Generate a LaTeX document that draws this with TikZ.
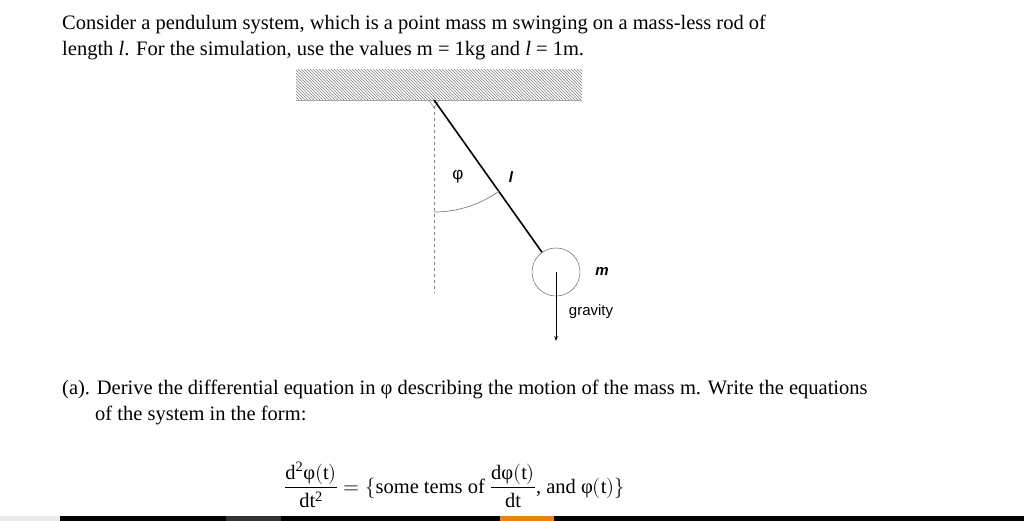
\documentclass[tikz,border=0pt]{standalone}
\usepackage{fontspec}
\usepackage{unicode-math}
\setmainfont{Liberation Serif}
\setmathfont{Latin Modern Math}
\setmathfont[range={it,up}]{Liberation Serif}
\newfontfamily\lsans{Liberation Sans}
\usetikzlibrary{patterns,arrows.meta}
\begin{document}
\begin{tikzpicture}[x=1pt,y=-1pt,
  body/.style={anchor=base west,inner sep=0pt,font=\fontsize{20.5}{24}\selectfont},
  lab/.style={inner sep=0pt,font=\lsans\fontsize{15}{18}\selectfont}]
\useasboundingbox (0,0) rectangle (1024,521);
\fill[white] (0,0) rectangle (1024,521);
\node[body] (t1) at (62,30) {Consider a pendulum system, which is a point mass m swinging on a mass-less rod of};
\node[body] (t2) at (62,56) {length \textit{l}. For the simulation, use the values m = 1kg and \textit{l} = 1m.};
% ceiling
\fill[pattern=north west lines,pattern color=gray] (296,70) rectangle (582,100);
\draw[gray!70,line width=0.6pt] (296,100) -- (582,100);
\coordinate (piv) at (434,100);
\draw[gray,line width=0.5pt] (429,100) -- (434,108) -- (439,100);
\draw[gray,dashed,dash pattern=on 3pt off 3pt,line width=0.6pt] (piv) -- (434,293);
\node[draw=gray,circle,minimum size=48pt,inner sep=0pt,line width=0.6pt] (mass) at (556,272) {};
\draw[line width=1.6pt] (piv) -- (mass);
\draw[gray,line width=0.7pt,domain=0:35.4,samples=30] plot ({434+112*sin(\x)},{100+112*cos(\x)});
\coordinate (g) at (556,341);
\draw[line width=0.6pt,-{Stealth[length=5pt,width=3.5pt]}] (mass.center) -- (g);
\node[lab] (phi) at (458,177) {\fontsize{17}{18}\selectfont φ};
\node[lab] (l) at (511,177) {\bfseries\itshape l};
\node[lab] (m) at (602,271) {\bfseries\itshape m};
\node[lab] (grav) at (591,312) {gravity};
\node[body] (a1) at (62,394) {(a). Derive the differential equation in φ describing the motion of the mass m. Write the equations};
\node[body] (a2) at (95,420) {of the system in the form:};
\node[inner sep=0pt,anchor=base west,font=\fontsize{20.5}{24}\selectfont] (eq) at (284,493)
 {$\dfrac{d^{2}\varphi(t)}{dt^{2}} = \{\text{some tems of } \dfrac{d\varphi(t)}{dt}\text{, and } \varphi(t)\}$};
% bottom bar
\fill[black!8] (0,516) rectangle (60,521);
\fill[black] (60,516) rectangle (1024,521);
\fill[black!80] (226,516) rectangle (281,521);
\fill[orange!70!brown] (500,516) rectangle (554,521);
\end{tikzpicture}
\end{document}
